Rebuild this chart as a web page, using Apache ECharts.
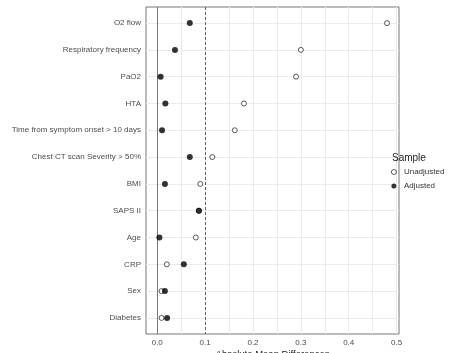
<!DOCTYPE html>
<html>
<head>
<meta charset="utf-8">
<script src="https://cdn.jsdelivr.net/npm/echarts@6/dist/echarts.min.js"></script>
<style>
  html, body { margin: 0; padding: 0; background: #fff; }
  #chart { width: 474px; height: 353px; }
</style>
</head>
<body>
<div id="chart"></div>
<script>
const categories = ['O2 flow', 'Respiratory frequency', 'PaO2', 'HTA', 'Time from symptom onset > 10 days',
  'Chest CT scan Severity > 50%', 'BMI', 'SAPS II', 'Age', 'CRP', 'Sex', 'Diabetes'];
const unadjusted = [0.48, 0.30, 0.29, 0.181, 0.162, 0.115, 0.090, 0.087, 0.0805, 0.020, 0.009, 0.009];
const adjusted = [0.068, 0.037, 0.007, 0.017, 0.010, 0.068, 0.016, 0.087, 0.0045, 0.0555, 0.016, 0.0205];
const xTicks = [0, 0.1, 0.2, 0.3, 0.4, 0.5];
const xGrid = [0, 0.05, 0.1, 0.15, 0.2, 0.25, 0.3, 0.35, 0.4, 0.45, 0.5];
const threshold = 0.1;

const chart = echarts.init(document.getElementById('chart'));
const font = 'Liberation Sans, Arial, sans-serif';
const idx = categories.map((c, i) => i);

const option = {
  animation: false,
  textStyle: { fontFamily: font },
  grid: {
    left: 146, right: 75, top: 7, bottom: 19, outerBoundsMode: 'none',
    show: true, borderColor: '#777', borderWidth: 1, backgroundColor: '#fff'
  },
  title: {
    text: 'Sample', left: 387, top: 148,
    textStyle: { fontSize: 10, fontWeight: 'normal', color: '#222', fontFamily: font }
  },
  legend: {
    orient: 'vertical', left: 386, top: 163, itemGap: 6,
    itemWidth: 10, itemHeight: 5,
    textStyle: { fontSize: 8, color: '#333', fontFamily: font },
    data: [
      { name: 'Unadjusted', icon: 'circle', itemStyle: { color: '#fff', borderColor: '#000', borderWidth: 0.8 } },
      { name: 'Adjusted', icon: 'circle', itemStyle: { color: '#000' } }
    ]
  },
  xAxis: {
    type: 'value', min: -0.0235, max: 0.505,
    name: 'Absolute Mean Differences', nameLocation: 'middle', nameGap: 15,
    nameMoveOverlap: false,
    nameTextStyle: { fontSize: 9.5, color: '#222', verticalAlign: 'top' },
    axisLine: { show: false },
    axisTick: { show: true, length: 3, lineStyle: { color: '#666' }, customValues: xTicks },
    axisLabel: { fontSize: 8, color: '#4d4d4d', margin: 5, customValues: xTicks,
      formatter: v => v.toFixed(1) },
    splitLine: { show: false }
  },
  yAxis: {
    type: 'value', min: -0.6, max: 11.6, inverse: true,
    axisLine: { show: false },
    axisTick: { show: true, length: 3, lineStyle: { color: '#666' }, customValues: idx },
    axisLabel: { fontSize: 8, color: '#4d4d4d', margin: 5, customValues: idx,
      formatter: v => categories[Math.round(v)] },
    splitLine: { show: false }
  },
  series: [
    {
      type: 'line', data: [], silent: true, z: 1,
      markLine: {
        silent: true, symbol: 'none', label: { show: false }, animation: false, z: 1,
        lineStyle: { color: '#ebebeb', width: 1, type: 'solid' },
        data: xGrid.map(v => ({ xAxis: v })).concat(idx.map(i => ({ yAxis: i })))
      }
    },
    {
      type: 'line', data: [], silent: true, z: 2,
      markLine: {
        silent: true, symbol: 'none', label: { show: false }, animation: false, z: 2,
        data: [
          { xAxis: 0, lineStyle: { color: '#777', width: 1, type: 'solid' } },
          { xAxis: threshold, lineStyle: { color: '#666', width: 1, type: [3, 2] } }
        ]
      }
    },
    {
      name: 'Unadjusted', type: 'scatter', symbol: 'circle', symbolSize: 5, z: 3,
      itemStyle: { color: '#fff', borderColor: '#000', borderWidth: 0.8 },
      data: unadjusted.map((v, i) => [v, i])
    },
    {
      name: 'Adjusted', type: 'scatter', symbol: 'circle', symbolSize: 6, z: 4,
      itemStyle: { color: '#000' },
      data: adjusted.map((v, i) => [v, i])
    }
  ]
};
chart.setOption(option);
</script>
</body>
</html>
